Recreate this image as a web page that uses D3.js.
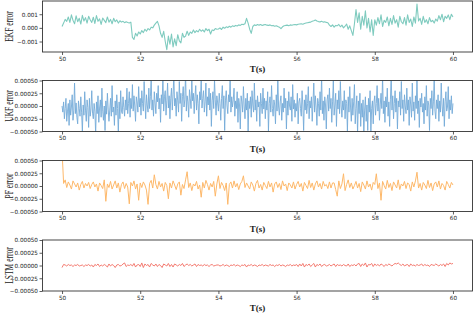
<!DOCTYPE html>
<html>
<head>
<meta charset="utf-8">
<script src="https://cdn.jsdelivr.net/npm/d3@7"></script>
<style>
  html, body { margin: 0; padding: 0; background: #fff; }
  svg { display: block; }
</style>
</head>
<body>
<svg id="chart" width="474" height="334"></svg>
<script>
// ---- data (values in units of 1e-5), sampled evenly over T = 50..60 s ----
const UNIT = 1e-5;
const T_START = 50, T_END = 60;
const xTicks = [50, 52, 54, 56, 58, 60];
const ekfTicks = [-0.001, 0, 0.001];
const smallTicks = [-0.0005, -0.00025, 0, 0.00025, 0.0005];
const seriesNames = ["EKF", "UKF", "PF", "LSTM"];
const seriesColors = ["#7fcbbf", "#74aad8", "#fdb86a", "#f47a70"];

const ekf = [
  10, 35, 62, 48, 80, 40, 95, 55, 30, 88,
  45, 70, 28, 92, 50, 75, 35, 85, 60, 40,
  78, 32, 90, 48, 66, 25, 72, 55, 38, 80,
  42, 62, 30, 70, 45, 58, 35, 52, 42, 48,
  38, 45, 40, 36, 42, -70, -85, -40, -60, -30,
  -45, -20, -35, -10, -25, -5, -15, 5, 0, 20,
  35, 48, 15, -40, -70, -25, -100, -160, -60, -120,
  -45, -140, -80, -130, -50, -95, -110, -40, -70, -60,
  -25, -55, -30, -40, -15, -35, -20, -30, -10, -25,
  -15, -30, -5, -20, -10, -45, -15, -20, -5, -10,
  -8, 0, -12, 5, -3, 8, 2, 12, 5, 15,
  10, 18, 14, 22, 18, 26, 24, 30, 70, 35,
  -10, -40, 10, 22, 18, 25, 20, 24, 18, 22,
  25, 20, 18, 22, 15, 18, 12, 16, 10, 5,
  -5, 8, 15, 18, 20, 16, 22, 19, 23, 25,
  22, 26, 28, 30, 27, 32, 35, 38, 40, 42,
  48, 52, 58, 50, 46, 44, 48, 42, 45, 40,
  38, 20, 10, 22, 5, 18, 15, 25, 8, 20,
  0, 12, 28, -10, 15, -20, -55, 30, 135, 40,
  110, -10, 85, 20, 125, 0, 70, -30, 60, -55,
  60, 20, 75, 30, 95, 10, 55, 40, 80, 15,
  70, 25, 90, 35, 60, 5, 85, 45, 30, 75,
  20, 95, 40, 65, 10, 80, 35, 175, 50, 70,
  25, 85, 40, 60, 30, 75, 45, 55, 35, 65,
  50, 90, 60, 100, 45, 85, 70, 95, 60, 100,
  80
];

const ukf = [
  0, -12, 8, -25, -5, 15, -30, -10, 5, -38,
  12, -18, -2, 22, -28, -8, 45, -15, 6, -22,
  -35, 10, -5, -20, 18, -12, -50, 2, -18, 28,
  -8, -30, 12, -3, -42, 15, -20, -6, 30, -14,
  -25, 5, -10, -55, 8, -15, 20, -32, -4, 12,
  -22, 35, -10, -28, 0, -48, 10, -16, 25, -6,
  -30, -8, 15, -20, 40, -12, -2, -38, 10, -18,
  22, -5, -52, 8, -25, 30, -10, -15, 18, -3,
  -20, 12, -8, 35, -15, 5, 28, -22, 15, -5,
  42, -10, 20, 0, -30, 18, 8, -12, 38, -2,
  15, -18, 30, 5, -10, 48, 10, -25, 22, 2,
  -12, 35, -5, 18, 55, -8, 12, -20, 28, 6,
  -15, 25, 8, 40, -6, 15, -32, 22, 4, 58,
  -10, 18, 30, -18, 10, 45, -4, 20, -25, 14,
  35, -8, 22, 60, 0, 15, -20, 28, 10, -12,
  48, 5, 25, -30, 18, 38, -2, 12, 65, -10,
  20, 8, -22, 32, 14, -5, 50, 10, 25, -15,
  18, 40, -8, 22, 5, -35, 28, 12, 55, -4,
  15, 30, -12, 8, 45, -20, 18, 2, 35, -8,
  25, -40, 10, 28, -5, 52, 12, -18, 20, 6,
  -10, 25, 5, -28, 15, 40, -5, 20, -48, 10,
  30, 0, -15, 22, 8, 58, -12, 18, -2, 12,
  35, -20, 10, -5, 28, -32, 15, 2, -45, 20,
  8, -12, 38, 0, -25, 15, -8, 25, -52, 10,
  -5, 18, -22, 30, 2, -12, 45, -8, 12, -30,
  20, -2, 8, -40, 25, 5, -15, 35, -6, 15,
  -25, 10, -8, 28, -50, 5, 18, -12, 40, -5,
  -20, 12, 2, -35, 22, -10, 55, -2, -18, 8,
  20, -28, 5, -12, 35, -4, 15, -45, 10, -18,
  28, 0, -8, 18, -30, 42, -6, 12, -22, 5,
  -10, 25, -35, 8, 15, -5, -20, 30, 2, -48,
  12, -8, 22, -15, 5, 38, -25, 10, -4, 18,
  -30, 8, 45, -12, 20, -2, -38, 15, 5, -20,
  28, -8, 60, -15, 10, -28, 18, 2, -45, 12,
  22, -10, 35, -5, 15, -32, 8, 50, -18, 2,
  25, -40, 12, -6, 30, -15, 48, 0, -22, 10,
  -8, 30, -25, 12, 5, -50, 18, -12, 38, -2,
  -30, 15, -18, 8, 42, -35, -5, 20, -55, 10,
  -15, 25, -40, 5, -22, 12, -58, -8, 18, -30,
  2, -48, 15, -12, 30, -52, -5, 10, -35, 8,
  20, -18, 5, 40, -10, 15, -28, 2, 25, -5,
  58, -15, 10, -32, 18, -2, 35, -20, 8, -40,
  12, 62, -8, 20, -25, 5, 30, -12, 15, -45,
  10, -2, 28, -18, 48, -5, 12, -30, 22, 0,
  -15, 35, -8, 12, -38, 18, 2, -22, 45, -10,
  8, -28, 20, -5, 55, -15, 10, -42, 15, -2,
  25, -12, 5, -35, 18, -8, 40, -20, 10, 2,
  -48, 15, -5, 30, -18, 8, 52, -10, -25, 12,
  -5, 22, -30, 10, -12, 45, 2, -20, 15, -40,
  8, 28, -10, -2, 38, -25, 12, -8, 20, -15,
  5
];

const pf = [
  70, 5, 12, -3, 8, 2, -6, 10, 4, -2,
  6, -8, 3, 9, -4, 5, 0, 7, -5, 3,
  8, -2, 4, -10, 6, 1, -5, 12, -30, 4,
  -3, 9, -6, 2, 10, -4, 6, -12, 3, 8,
  -5, 5, -2, -35, 7, 0, 10, -6, 4, -28,
  6, -3, 8, 2, -8, -36, 5, 11, -4, 22,
  3, -6, 9, -2, 5, -10, 7, 1, -25, 6,
  -4, 10, 2, -7, 4, 8, -18, 3, -5, 12,
  28, -3, 6, -9, 4, 0, 9, -6, 2, -22,
  7, -4, 11, 3, -8, 5, -2, 9, -20, 4,
  20, -5, 7, 1, -9, 6, -36, 3, 8, -4,
  10, -2, 5, -7, 4, 9, 20, -3, 6, 0,
  -6, 8, 2, -10, 5, 11, -4, 3, -8, 7,
  1, -5, 9, -2, 6, -12, 4, 8, -3, 5,
  -7, 10, 0, 4, -9, 6, 2, -4, 8, -6,
  3, 9, -2, 5, -10, 7, 1, -5, 11, -3,
  6, -8, 4, 10, -2, 5, -6, 9, 0, 3,
  -5, 8, -4, 6, 6, -7, -20, 10, -5, 4,
  24, -9, 3, 12, -3, 6, -6, 1, 9, -4,
  5, -11, 8, 2, -6, 10, -2, 4, -8, 7,
  3, 24, -5, 6, -28, 9, 1, -6, 11, -3,
  5, -9, 8, 2, -4, 12, -7, 4, 0, 9,
  -5, 6, 3, -10, 8, -2, 10, 27, -4, 5,
  -8, 7, 2, -5, 11, -3, 6, -9, 4, 8,
  -2, 10, -6, 5, 1, -8, 9, 3, -4, 7,
  2
];

const lstm = [
  -4, 2, 1, -1, 2, 0, 1, -2, 1, 0,
  2, -1, 0, 1, -2, 1, 0, 2, -1, 1,
  -3, 2, 0, 3, -2, 1, -1, 2, 0, -3,
  3, -1, 2, 0, -4, 1, 2, -1, 0, 3,
  5, -2, 1, 0, 2, -1, 4, -3, 1, 2,
  -2, 5, -4, 3, 0, 2, -3, 4, 1, -1,
  3, -2, 2, 0, -4, 3, 1, -1, 4, -2,
  2, -3, 3, 1, -1, 2, 0, 4, -2, 1,
  3, 0, 2, -1, 1, 3, -2, 2, 0, 1,
  -1, 2, 0, 1, -2, 1, 2, -1, 0, 1,
  1, -1, 0, 2, -1, 1, 0, -2, 1, 0,
  2, -1, 1, 0, -2, 1, 0, 2, -3, 1,
  0, 2, -1, 1, 0, -2, 1, 0, 2, -1,
  1, 0, -1, 2, 0, 1, -2, 1, 0, 2,
  -1, 1, 0, -2, 1, 0, 2, -1, 1, 0,
  2, -2, 3, -1, 4, -3, 2, 0, 3, -2,
  1, 4, -3, 2, 0, 3, -2, 1, 2, -1,
  0, 2, -1, 1, 3, -2, 2, 0, 1, -1,
  2, 0, -1, 3, -2, 1, 0, 2, -1, 3,
  4, -2, 3, 0, 5, -3, 2, 1, 4, -2,
  3, 0, 2, -1, 3, 1, -2, 2, 0, 3,
  1, -1, 2, 4, 3, 5, 2, 0, 3, -1,
  1, 2, -2, 3, 0, 1, -1, 2, 0, 1,
  3, -1, 2, 0, 1, -2, 2, 1, 0, 3,
  1, -1, 2, 0, 3, -2, 4, 1, 5, 3,
  4
];

const seriesData = [ekf, ukf, pf, lstm];
const yDomains = [[-0.00177, 0.00197], [-0.0005, 0.0005], [-0.0005, 0.0005], [-0.0005, 0.0005]];
const yTickSets = [ekfTicks, smallTicks, smallTicks, smallTicks];
const yFormats = [".3f", ".5f", ".5f", ".5f"];
const strokeWidths = [1.1, 0.9, 1, 1];

// ---- layout ----
const svg = d3.select("#chart");
svg.append("rect").attr("width", 474).attr("height", 334).attr("fill", "#fff");
const left = 42.5, right = 472.5;
const tops = [1, 80.5, 160.5, 240];
const panelH = 51;

const x = d3.scaleLinear().domain([49.5, 60.5]).range([left, right]);

seriesData.forEach((vals, k) => {
  const top = tops[k], bottom = top + panelH;
  const y = d3.scaleLinear().domain(yDomains[k]).range([bottom, top]);
  const tScale = d3.scaleLinear().domain([0, vals.length - 1]).range([T_START, T_END]);
  const g = svg.append("g");

  const clipId = "clip" + k;
  svg.append("clipPath").attr("id", clipId)
    .append("rect").attr("x", left).attr("y", top).attr("width", right - left).attr("height", panelH);

  const pts = vals.map((v, i) => [tScale(i), v * UNIT]);
  const line = d3.line().x(d => x(d[0])).y(d => y(d[1]));
  g.append("path")
    .attr("clip-path", `url(#${clipId})`)
    .attr("d", line(pts))
    .attr("fill", "none")
    .attr("stroke", seriesColors[k])
    .attr("stroke-width", strokeWidths[k])
    .attr("stroke-linejoin", "round");

  // frame
  g.append("rect").attr("x", left).attr("y", top).attr("width", right - left).attr("height", panelH)
    .attr("fill", "none").attr("stroke", "#333").attr("stroke-width", 0.9);

  // x axis
  const xa = g.append("g").attr("transform", `translate(0,${bottom})`)
    .call(d3.axisBottom(x).tickValues(xTicks).tickSize(3).tickPadding(1.5).tickFormat(d3.format("d")));
  xa.select(".domain").remove();
  xa.selectAll("line").attr("stroke", "#333").attr("stroke-width", 0.8);
  xa.selectAll("text").attr("font-family", "DejaVu Sans").attr("font-size", 5.7).attr("fill", "#222");

  // y axis
  const ya = g.append("g").attr("transform", `translate(${left},0)`)
    .call(d3.axisLeft(y).tickValues(yTickSets[k]).tickSize(3).tickPadding(1.5).tickFormat(d3.format(yFormats[k])));
  ya.select(".domain").remove();
  ya.selectAll("line").attr("stroke", "#333").attr("stroke-width", 0.8);
  ya.selectAll("text").attr("font-family", "DejaVu Sans").attr("font-size", 5.7).attr("fill", "#222");

  // x label
  g.append("text").attr("x", (left + right) / 2).attr("y", bottom + 20)
    .attr("text-anchor", "middle")
    .attr("font-family", "Liberation Serif").attr("font-weight", "bold").attr("font-size", 9)
    .attr("fill", "#222").text("T(s)");

  // y label (condensed serif)
  const cy = (top + bottom) / 2;
  g.append("text")
    .attr("transform", `translate(12.5,${cy}) rotate(-90) scale(0.6,1)`)
    .attr("text-anchor", "middle")
    .attr("font-family", "Liberation Serif").attr("font-size", 12.5)
    .attr("fill", "#222").text(seriesNames[k] + " error");
});
</script>
</body>
</html>
